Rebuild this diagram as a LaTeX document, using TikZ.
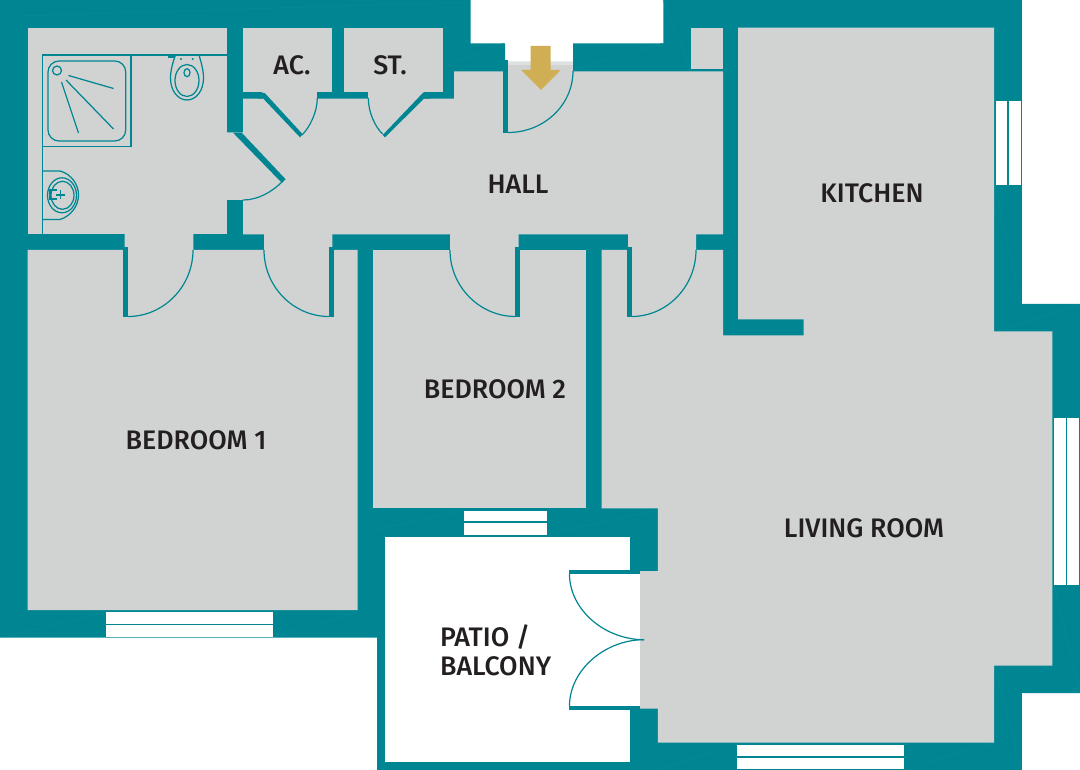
\documentclass[tikz,border=0pt]{standalone}
\usepackage{fontspec}
\setmainfont{Fira Sans Medium}
\definecolor{wallteal}{HTML}{008693}
\definecolor{roomgray}{HTML}{D1D3D2}
\definecolor{inktext}{HTML}{231F20}
\definecolor{arrowgold}{HTML}{CFAE54}
\definecolor{seam}{HTML}{0A8C98}
\tikzset{
  wall/.style={fill=wallteal,draw=none},
  room/.style={fill=roomgray,draw=none},
  pane/.style={fill=white,draw=none},
  swing/.style={draw=wallteal,line width=1.2pt,fill=none},
  fixture/.style={draw=wallteal,line width=1.25pt,fill=none},
  seamline/.style={draw=seam,line width=.4pt},
  label/.style={text=inktext,font=\fontsize{26.8}{32}\selectfont,inner sep=0pt,anchor=base},
  labelw/.style={label,anchor=base west}
}
\begin{document}
\begin{tikzpicture}[x=1pt,y=-1pt]
\useasboundingbox (0,0) rectangle (1080,770);
\fill[white] (0,0) rectangle (1080,770);
% building silhouette
\fill[wall] (0,0) -- (470.7,0) -- (470.7,43.3) -- (505,43.3) -- (505,62) -- (573,62) -- (573,43.3) -- (663.3,43.3) -- (663.3,0)
  -- (1021.8,0) -- (1021.8,304) -- (1080,304) -- (1080,693) -- (1021.8,693) -- (1021.8,770) -- (377,770) -- (377,637.5) -- (0,637.5) -- cycle;
% faint seams
\draw[seamline] (20,16) -- (470,2);
\draw[seamline] (445,28) -- (470,43);
\draw[seamline] (455,62) -- (504,43);
\draw[seamline] (573,70) -- (663,43);
\draw[seamline] (663,0) -- (691,69);
\draw[seamline] (995,185) -- (1021,304);
\draw[seamline] (1000,330) -- (1080,304);
\draw[seamline] (1054,585) -- (1080,693);
\draw[seamline] (1022,693) -- (1052,666);
\draw[seamline] (995,666) -- (1021,770);
\draw[seamline] (904,769) -- (994,743);
\draw[seamline] (658,770) -- (737,745);
\draw[seamline] (5,637) -- (106,612);
\draw[seamline] (273,637) -- (357,612);
\draw[seamline] (375,530) -- (464,510);
\draw[seamline] (547,534) -- (657,510);
% rooms
\fill[room] (27.7,27.7) rectangle (227,234.4);
\fill[room] (243,27.7) rectangle (332.3,92.5);
\fill[room] (344,27.7) rectangle (443,92.5);
\fill[room] (691,27.7) rectangle (722.8,69.5);
\fill[room] (262,92) rectangle (317.3,99);
\fill[room] (368.3,92) rectangle (423.5,99);
\fill[room] (454,71.5) -- (723,71.5) -- (723,234.4) -- (696,234.4) -- (696,250) -- (628,250) -- (628,234.4) -- (518.7,234.4) -- (518.7,250) -- (450,250) -- (450,234.4) -- (332.3,234.4) -- (332.3,250) -- (264,250) -- (264,234.4) -- (243,234.4) -- (243,200) -- (227,200) -- (227,132.5) -- (243,132.5) -- (243,98.7) -- (454,98.7) -- cycle;
\fill[room] (508,62) rectangle (573,72);
\fill[roomgray!70!white] (508,62) rectangle (573,65);
\fill[room] (27.7,250) -- (124.5,250) -- (124.5,234) -- (193.3,234) -- (193.3,250) -- (264,250) -- (332.3,250) -- (357.7,250) -- (357.7,610) -- (27.7,610) -- cycle;
\fill[room] (373.3,250) rectangle (586,508.3);
\fill[room] (124.5,234) rectangle (193.3,251);
\fill[room] (738,27.7) -- (994,27.7) -- (994,331.4) -- (1052.4,331.4) -- (1052.4,665.5) -- (994,665.5) -- (994,742.6) -- (657.8,742.6) -- (657.8,708.5) -- (640,708.5) -- (640,571) -- (657.8,571) -- (657.8,508.3) -- (601.7,508.3) -- (601.7,250) -- (723,250) -- (723,335.3) -- (803.5,335.3) -- (803.5,319.5) -- (738,319.5) -- cycle;
% patio
\fill[pane] (385.3,536.8) rectangle (630,761.7);
\fill[pane] (629,574) rectangle (640,706);
% windows
\fill[pane] (106,612) rectangle (273,623.6);
\fill[pane] (106,625.4) rectangle (273,636.8);
\fill[pane] (464,510.7) rectangle (547,521.2);
\fill[pane] (464,522.8) rectangle (547,534.7);
\fill[pane] (737,745) rectangle (904,756.2);
\fill[pane] (737,758) rectangle (904,769);
\fill[pane] (995.5,101.5) rectangle (1007.2,184.7);
\fill[pane] (1008.8,101.5) rectangle (1020.5,184.7);
\fill[pane] (1054,418.3) rectangle (1065.6,585);
\fill[pane] (1067.2,418.3) rectangle (1078.8,585);
% door leaves
\fill[wall] (123.3,246.7) rectangle (128,317);
\fill[wall] (329,246.7) rectangle (334,317);
\fill[wall] (515.3,246.7) rectangle (520,317);
\fill[wall] (626.7,246.7) rectangle (631.7,317);
\fill[wall] (503.3,60) rectangle (508,132.7);
\fill[wall] (233,132.7) -- (241.7,132.7) -- (285.7,179.3) -- (281.7,182.7) -- cycle;
\fill[wall] (261.7,92.5) -- (265,93.3) -- (302.7,134.3) -- (300,137.3) -- (263.3,98.7) -- (258,98.7) -- cycle;
\fill[wall] (423.3,92.5) -- (382.7,135) -- (385,137.3) -- (424,98.7) -- (430,98.7) -- (430,92.5) -- cycle;
\fill[wall] (569,569.5) rectangle (640,574);
\fill[wall] (569,705.7) rectangle (640,710);
% door swings
\draw[swing] (128,316.5) .. controls (163.75,316.5) and (193,286.5) .. (193,250);
\draw[swing] (329,316.5) .. controls (293.25,316.5) and (264,286.5) .. (264,250);
\draw[swing] (515.5,316.5) .. controls (479.5,316.5) and (450,286.5) .. (450,250);
\draw[swing] (631.7,316.5) .. controls (667,316.5) and (696,286.5) .. (696,250);
\draw[swing] (508,132.5) .. controls (544,132.5) and (573,105) .. (573,71);
\draw[swing] (243,200) .. controls (258,200) and (272,192) .. (283,181);
\draw[swing] (302,135) .. controls (310,127) and (317.3,112) .. (317.3,98);
\draw[swing] (382.7,134) .. controls (375,127) and (368.3,112) .. (368.3,98);
\draw[swing] (569.5,574) .. controls (569.5,610) and (605,639.7) .. (644,639.7);
\draw[swing] (569.5,706) .. controls (569.5,670) and (605,639.7) .. (644,639.7);
% entry arrow
\fill[arrowgold] (530.7,46) -- (550.7,46) -- (550.7,70) -- (560.7,70) -- (541,90) -- (521,70) -- (530.7,70) -- cycle;
% shower
\draw[fixture] (42.5,234.4) -- (42.5,55) -- (227,55);
\draw[fixture] (42.5,55) rectangle (131,146.7);
\draw[fixture,rounded corners=11pt] (48,61) rectangle (125.7,141);
\draw[fixture] (57,70.5) circle[radius=4.5];
\draw[fixture] (68.5,75.5) -- (113.5,88.5);
\draw[fixture] (66,80) -- (113.5,129);
\draw[fixture] (61.5,82) -- (78.5,133);
% basin
\draw[fixture] (42.5,171) -- (60,171) .. controls (71,174) and (78.5,184) .. (78.5,195) .. controls (78.5,206) and (71,216) .. (60,219.5) -- (42.5,219.5);
\draw[fixture] (62,195.3) ellipse[x radius=14.5,y radius=17.5];
\draw[fixture] (62.5,195.3) ellipse[x radius=11.5,y radius=14];
\draw[fixture] (57,190) -- (50,190) -- (50,199) -- (57,199);
\draw[fixture] (56,195) -- (65,195);
\draw[fixture] (60.4,190.5) -- (60.4,199.5);
% toilet
\draw[fixture] (175.5,55) .. controls (173,62) and (170.5,70) .. (170.5,78) .. controls (170.5,91) and (178,100) .. (187,100) .. controls (196,100) and (203.5,91) .. (203.5,78) .. controls (203.5,70) and (201,62) .. (199,55);
\draw[fixture] (187,80.5) ellipse[x radius=12,y radius=16];
\draw[fixture] (187,72.7) ellipse[x radius=3,y radius=4];
\fill[wallteal] (181,59) circle[radius=1.1];
\fill[wallteal] (192.7,59) circle[radius=1.1];
\fill[wallteal] (168,55) rectangle (175,58);
% labels
\node[label] (hall) at (518,194) {HALL};
\node[label] (ac) at (292,75) {AC.};
\node[label] (st) at (390,75) {ST.};
\node[label] (kitchen) at (872,203) {KITCHEN};
\node[label] (bed1) at (196,449) {BEDROOM 1};
\node[label] (bed2) at (495,398) {BEDROOM 2};
\node[label] (living) at (864,537) {LIVING ROOM};
\node[labelw] (patio) at (440,646) {PATIO /};
\node[labelw] (balcony) at (440,675) {BALCONY};
\end{tikzpicture}
\end{document}
